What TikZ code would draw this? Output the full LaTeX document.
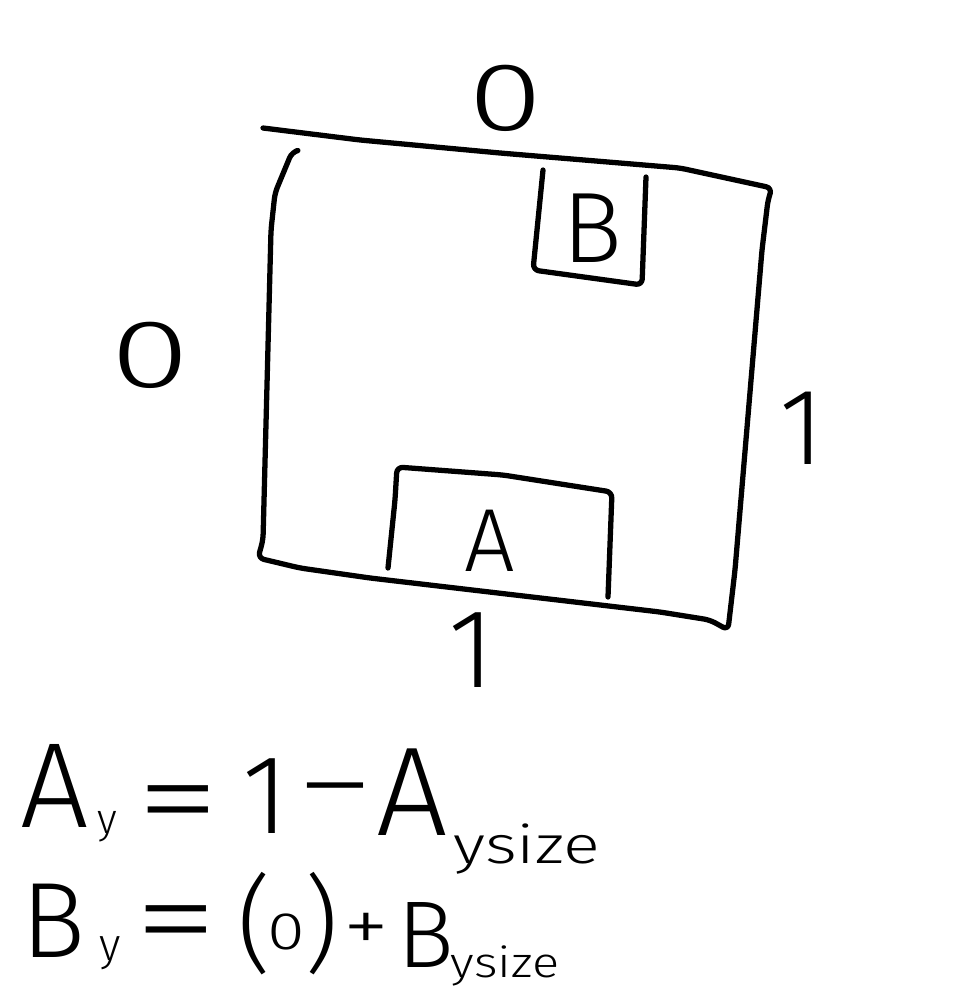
\documentclass[tikz,border=0pt]{standalone}
\usepackage{fontspec}
\setmainfont{Fira Sans}[UprightFont=* Light]
\usepackage{tikz}
\tikzstyle{pen} = [line width=3pt, line cap=round, line join=round, rounded corners=0.12cm]
\tikzstyle{glyph} = [inner sep=0pt, outer sep=0pt]

\begin{document}
\begin{tikzpicture}[x=0.02cm, y=-0.02cm,
    lbl/.style={glyph, font=\fontsize{#1}{#1}\selectfont},
    sub/.style={glyph, anchor=base, font=\fontsize{#1}{#1}\selectfont}]

\useasboundingbox (0,0) rectangle (968,998);

% Outer square
\draw[pen] (263,128) -- (360,140) -- (500,153) -- (680,168) -- (772,188)
  -- (768,200) -- (762,250) -- (735,570) -- (728,630) -- (710,620)
  -- (660,612) -- (370,578) -- (300,568) -- (258,558) -- (263,540)
  -- (271,230) -- (275,193) -- (292,152) -- (296,151);

% Box B
\draw[pen] (543,170) -- (533,270) -- (642,285) -- (646,177);
\node[lbl=57] (boxB) at (592,228) {B};

% Box A
\draw[pen] (388,568) -- (395,500) -- (397,467) -- (503,475) -- (612,492) -- (608,597);
\node[lbl=51] (boxA) at (490,541) {A};

% Edge values
\node[lbl=55, xscale=1.4] (topzero) at (506,98) {0};
\node[lbl=55, xscale=1.5] (leftzero) at (150,355) {0};
\node[lbl=62] (rightone) at (802,428) {1};
\node[lbl=64] (bottomone) at (472,650) {1};

% First equation
\node[sub=69] (eqAa) at (55,827) {A};
\node[sub=24] (eqAy) at (107,833) {y};
\node[lbl=69, xscale=1.4] (eqAeq) at (178,813) {=};
\node[lbl=64] (eqAone) at (266,796) {1};
\node[lbl=60, xscale=1.5] (eqAminus) at (335,802) {−};
\node[sub=72] (eqAb) at (412,835) {A};
\node[sub=30, xscale=1.3] (eqAsize) at (527,863) {ysize};

% Second equation
\node[sub=61] (eqBb) at (54,957) {B};
\node[sub=26] (eqBy) at (110,960) {y};
\node[lbl=69, xscale=1.4] (eqBeq) at (176,933) {=};
\node[lbl=60] (eqBopen) at (255,924) {(};
\node[lbl=30, xscale=1.3] (eqBzero) at (286,932) {0};
\node[lbl=60] (eqBclose) at (322,924) {)};
\node[lbl=44, xscale=1.2] (eqBplus) at (366,933) {+};
\node[sub=54] (eqBc) at (426,967) {B};
\node[sub=24, xscale=1.2] (eqBsize) at (505,977) {ysize};

\end{tikzpicture}
\end{document}
